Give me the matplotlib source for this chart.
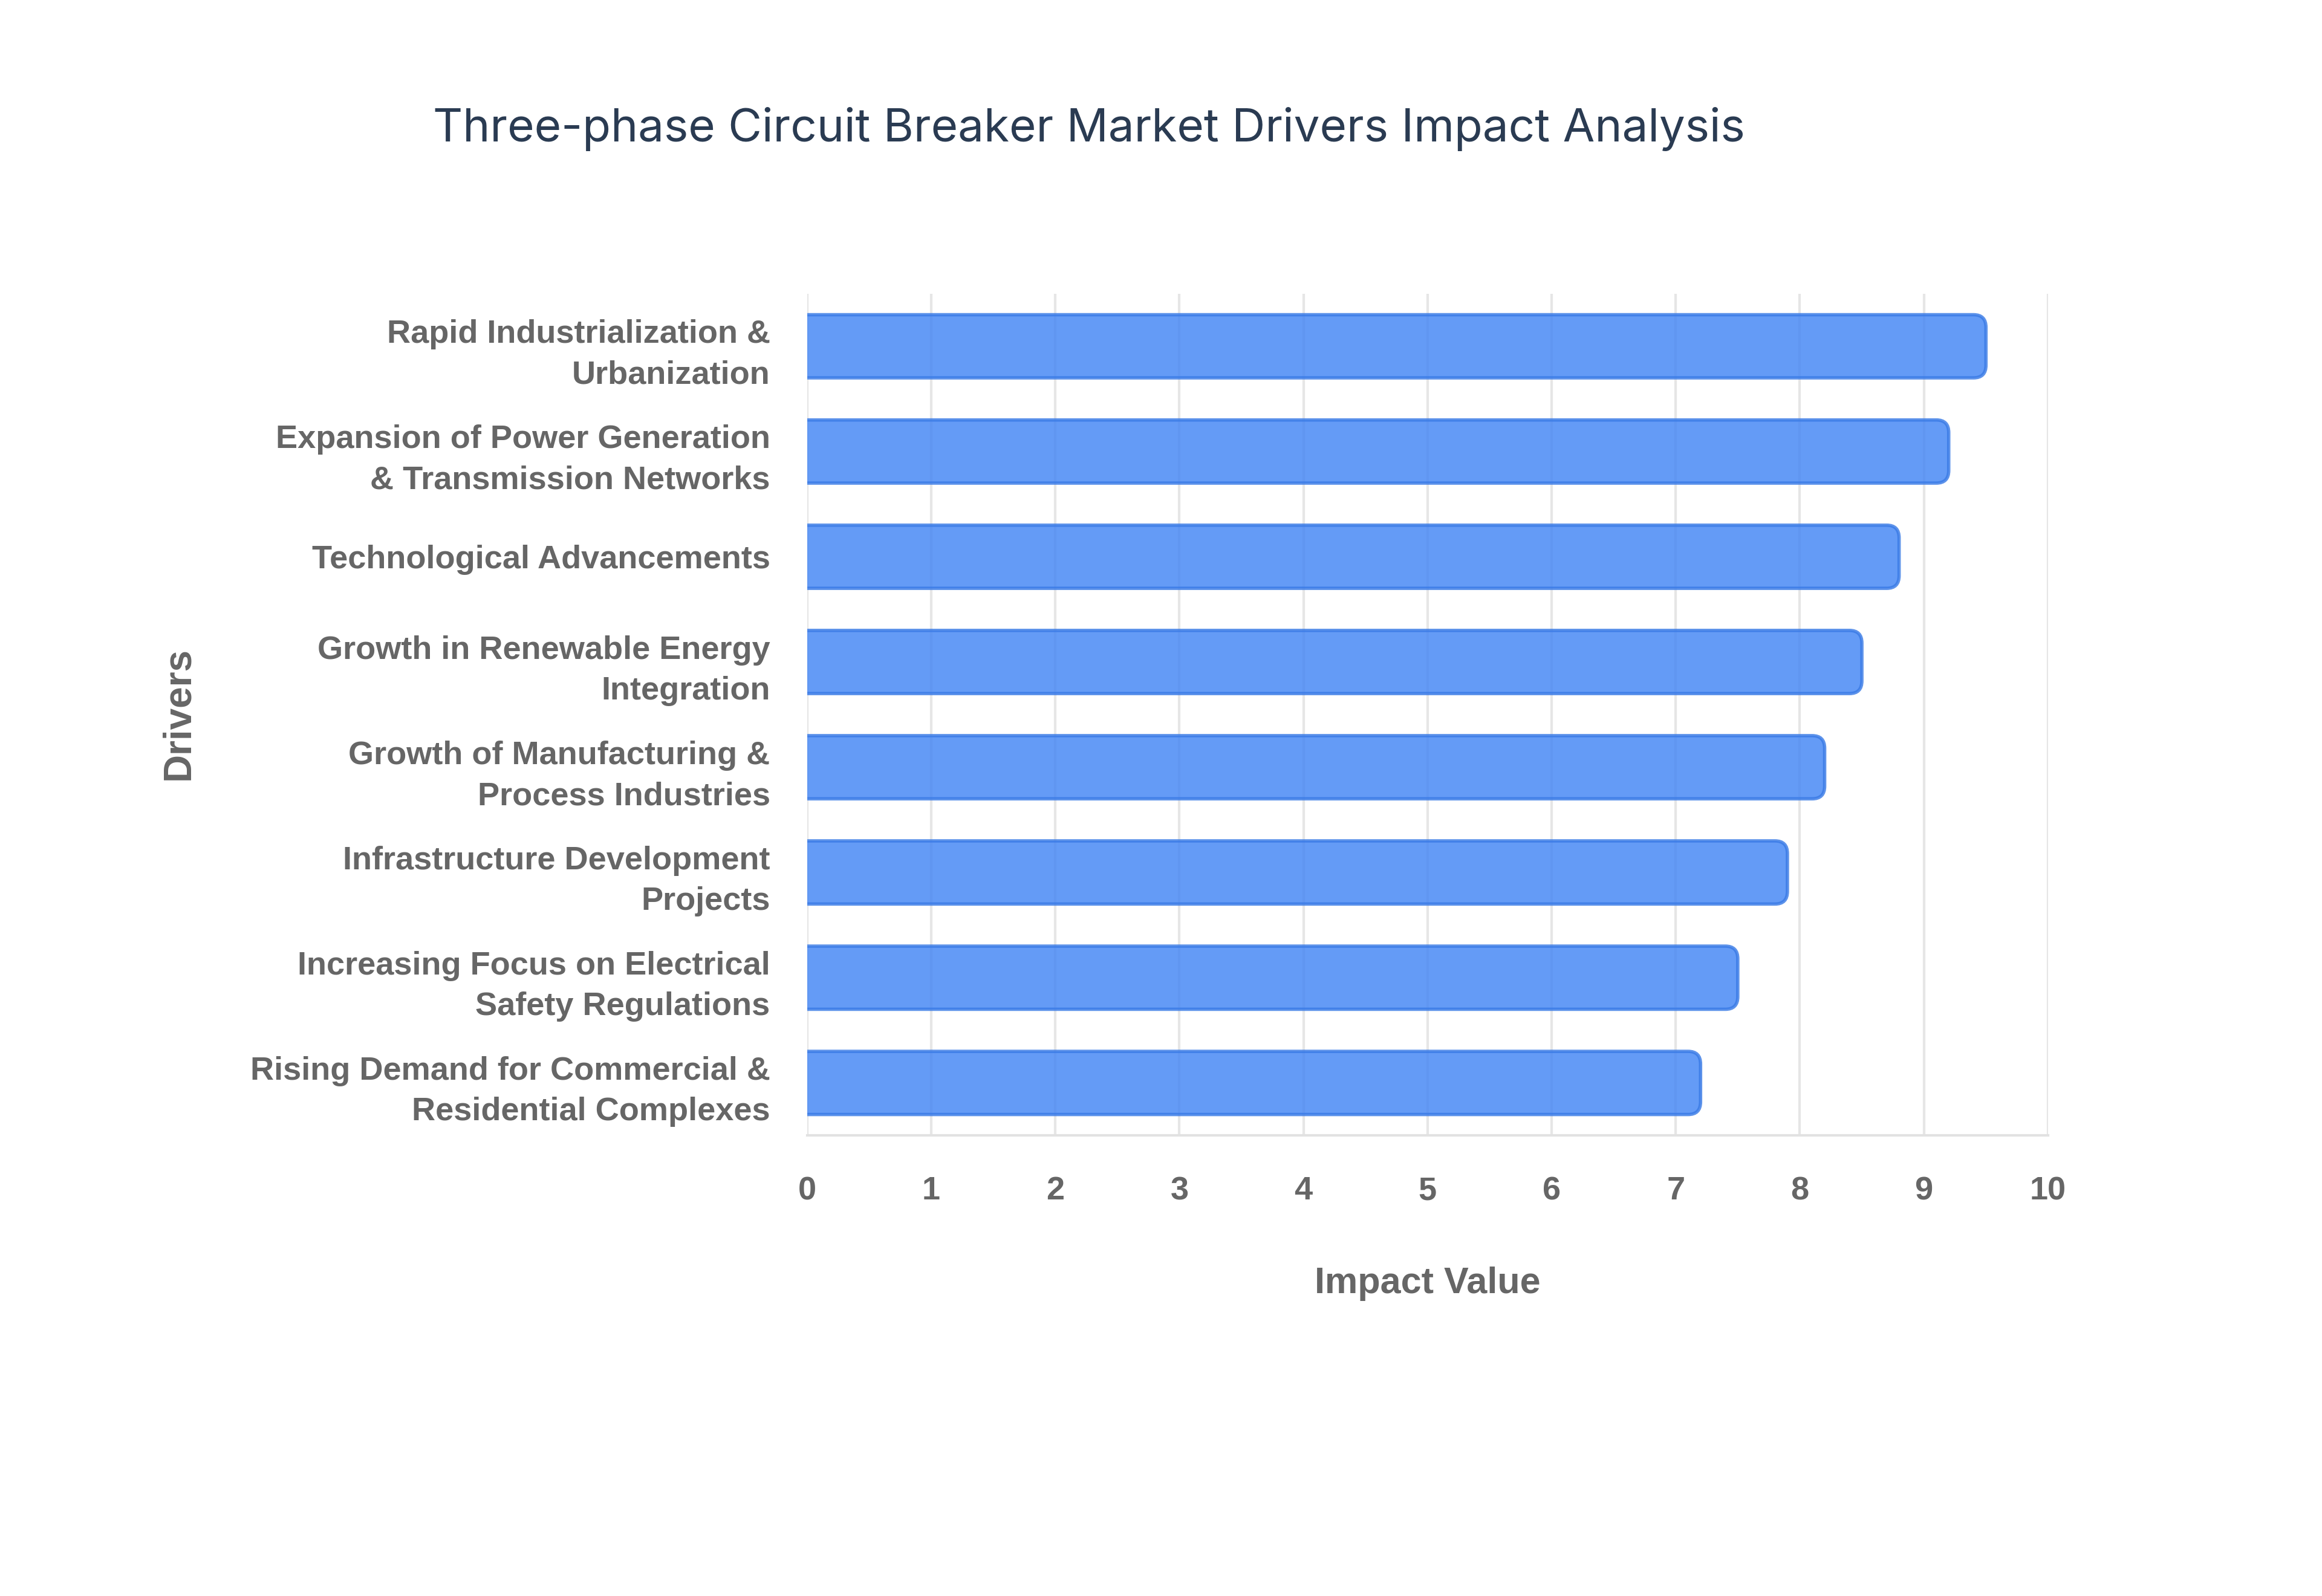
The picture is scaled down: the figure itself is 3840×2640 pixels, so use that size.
import matplotlib
matplotlib.use('Agg')
import matplotlib.pyplot as plt
from matplotlib.patches import FancyBboxPatch
import numpy as np

drivers = [
    'Rapid Industrialization &\nUrbanization',
    'Expansion of Power Generation\n& Transmission Networks',
    'Technological Advancements',
    'Growth in Renewable Energy\nIntegration',
    'Growth of Manufacturing &\nProcess Industries',
    'Infrastructure Development\nProjects',
    'Increasing Focus on Electrical\nSafety Regulations',
    'Rising Demand for Commercial &\nResidential Complexes',
]
impact = [9.5, 9.2, 8.8, 8.5, 8.2, 7.9, 7.5, 7.2]
x_ticks = [0, 1, 2, 3, 4, 5, 6, 7, 8, 9, 10]

fig = plt.figure(figsize=(19.2, 13.2), dpi=200)
ax = fig.add_axes([0.3476, 0.2885, 0.5344, 0.5275])

y = np.arange(len(drivers))
bars = ax.barh(y, impact, height=0.6, zorder=3)

# swap the plain rectangles for ones with rounded ends
for b in bars:
    x0, y0, w, h = b.get_x(), b.get_y(), b.get_width(), b.get_height()
    b.remove()
    p = FancyBboxPatch((x0 - 0.3, y0), w + 0.3, h,
                       boxstyle='round,pad=0,rounding_size=0.1',
                       mutation_aspect=1.2,
                       facecolor='#4285f4', alpha=0.82,
                       edgecolor='#3a7be6', linewidth=2.0, zorder=3)
    ax.add_patch(p)

ax.set_xlim(0, 10)
ax.set_ylim(len(drivers) - 0.5, -0.5)
ax.set_yticks(y)
ax.set_yticklabels(drivers, fontsize=19.5, fontweight='bold', color='#666666',
                   family='Liberation Sans', linespacing=1.45)
ax.set_xticks(x_ticks)
ax.set_xticklabels([str(t) for t in x_ticks], fontsize=19.5, fontweight='bold',
                   color='#666666', family='Liberation Sans')
ax.tick_params(axis='y', length=0, pad=22)
ax.tick_params(axis='x', length=0, pad=24)

ax.grid(axis='x', color='#e6e6e6', linewidth=1.5, zorder=0)
ax.set_axisbelow(True)
for s in ['top', 'right', 'left']:
    ax.spines[s].set_visible(False)
ax.spines['bottom'].set_color('#e2e2e2')
ax.spines['bottom'].set_linewidth(1.5)

ax.set_xlabel('Impact Value', fontsize=22, fontweight='bold', color='#666666',
              family='Liberation Sans', labelpad=36)
fig.text(0.077, 0.553, 'Drivers', rotation=90, fontsize=23, fontweight='bold',
         color='#666666', family='Liberation Sans', ha='center', va='center')

fig.text(0.469, 0.919, 'Three-phase Circuit Breaker Market Drivers Impact Analysis',
         fontsize=27.5, color='#2a3b52', family='Inter', ha='center', va='center')

fig.savefig('out.png', dpi=200, facecolor='white')
